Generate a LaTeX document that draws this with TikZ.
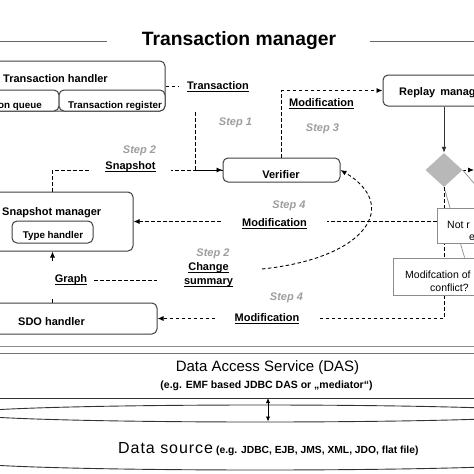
\documentclass[tikz,border=0pt]{standalone}
\usepackage{fontspec}
\setmainfont{Liberation Sans}
\usetikzlibrary{shapes.geometric,arrows.meta,backgrounds,calc}
\newcommand{\myul}[1]{\begingroup\setbox0=\hbox{#1}\leavevmode\rlap{\copy0}\rule[-2.6pt]{\wd0}{0.8pt}\endgroup}
\tikzset{
  box/.style={draw=black!75, line width=1pt, rounded corners=5pt, fill=white, inner sep=0pt},
  notebox/.style={draw=black!45, line width=0.8pt, fill=white, inner sep=0pt},
  bigt/.style={font=\fontsize{11}{13}\selectfont\bfseries, inner sep=0pt, anchor=base},
  smallt/.style={font=\fontsize{9.8}{12}\selectfont\bfseries, inner sep=0pt, anchor=base},
  lbl/.style={font=\fontsize{11}{13}\selectfont\bfseries, fill=white, inner xsep=0pt, inner ysep=1.5pt, anchor=base},
  steplbl/.style={font=\fontsize{11}{13}\selectfont\bfseries\itshape, text=black!38, inner sep=0pt, anchor=base},
  conn/.style={dash pattern=on 3.5pt off 2.5pt, line width=0.9pt},
  arr/.style={conn, -{Latex[length=6pt,width=5pt]}},
  notet/.style={font=\fontsize{10.5}{12}\selectfont, inner sep=0pt, anchor=base west},
  rule/.style={line width=0.8pt},
}
\begin{document}
\begin{tikzpicture}[x=1pt,y=-1pt]
\useasboundingbox (0,0) rectangle (474,474);
% title
\node[font=\fontsize{19.3}{22}\selectfont\bfseries, anchor=base, inner sep=0pt] (title) at (239,45) {Transaction manager};
\draw[rule, black!60] (0,41) -- (107,41);
\draw[rule, black!60] (370,41) -- (474,41);
% transaction handler
\node[box, minimum width=185pt, minimum height=50pt] (th) at (72.5,86) {};
\node[box, minimum width=89pt, minimum height=21pt] (tq) at (14.5,100.5) {};
\node[box, minimum width=106pt, minimum height=21pt] (tr) at (112,100.5) {};
\node[bigt, anchor=base west] (tht) at (3,82.5) {Transaction handler};
\node[smallt, anchor=base east] (tqt) at (42,108) {Transaction queue};
\node[smallt] (trt) at (115,108) {Transaction register};
\node[lbl] (trl) at (218,89) {\myul{Transaction}};
\coordinate (tv) at (195,112);
% verifier
\node[box, minimum width=117pt, minimum height=24pt] (ver) at (281.5,170) {};
\node[bigt] (vert) at (281,178) {Verifier};
% replay manager
\node[box, minimum width=137pt, minimum height=31pt] (rm) at (451.5,90.5) {};
\node[bigt, anchor=base west] (rmt) at (399,95) {Replay\hspace{5pt}manager};
% decision
\node[diamond, fill=black!28, minimum width=37pt, minimum height=34pt, inner sep=0pt] (dm) at (444,170) {};
\coordinate (dR) at (474,170);
\coordinate (dOff) at (495,208);
% notes
\node[notebox, minimum width=83pt, minimum height=35pt] (nr) at (478.5,225.5) {};
\node[notet] (nrt1) at (447,228) {Not r};
\node[notet] (nrt2) at (469,240) {e};
\node[notebox, minimum width=127pt, minimum height=37pt] (mc) at (456.5,276.5) {};
\node[notet] (mct1) at (405,278) {Modifcation of};
\node[notet] (mct2) at (430,291) {conflict?};
% snapshot manager
\node[box, minimum width=153pt, minimum height=59pt] (sm) at (56.5,221.5) {};
\node[bigt, anchor=base west] (smt) at (2,215) {Snapshot manager};
\node[box, minimum width=81pt, minimum height=22pt] (tyh) at (52.5,232) {};
\node[smallt] (tyt) at (53,238.5) {Type handler};
% SDO handler
\node[box, minimum width=177pt, minimum height=31pt] (sdo) at (68.5,318.5) {};
\node[bigt, anchor=base west] (sdot) at (18,325) {SDO handler};
% step labels
\node[steplbl] (s1) at (235.5,125) {Step 1};
\node[steplbl] (s3) at (322.5,131) {Step 3};
\node[steplbl] (s2a) at (139.5,153) {Step 2};
\node[steplbl] (s4a) at (289,208) {Step 4};
\node[steplbl] (s2b) at (213,256) {Step 2};
\node[steplbl] (s4b) at (286.5,300) {Step 4};
% connector labels
\node[lbl] (m3) at (321.5,106) {\myul{Modification}};
\node[lbl, minimum width=81pt] (snl) at (130.5,169) {\myul{Snapshot}};
\node[lbl, minimum width=105pt] (m4a) at (274.5,226) {\myul{Modification}};
\node[lbl, minimum width=102pt] (m4b) at (267,321) {\myul{Modification}};
\node[lbl, minimum width=46pt, minimum height=34pt, anchor=center] (gr) at (71,280) {\myul{Graph}};
\coordinate (gR) at (157,280);
\node[lbl] (csa) at (208.5,270) {\myul{Change}};
\node[lbl] (csb) at (208.5,284) {\myul{summary}};
\coordinate (c2) at (262,269);
% bottom layers
\draw[rule, black!45] (0,346) -- (474,346);
\draw[rule, black!55] (0,353) -- (474,353);
\node[font=\fontsize{15}{18}\selectfont, anchor=base, inner sep=0pt] (das) at (267.5,371) {Data Access Service (DAS)};
\node[font=\fontsize{10.5}{12}\selectfont\bfseries, anchor=base, inner sep=0pt] (dass) at (266.5,388) {(e.g. EMF based JDBC DAS or „mediator“)};
\draw[line width=0.9pt, black!80] (0,398) -- (474,398);
\draw[line width=0.9pt, black!80] (260,413.5) ellipse [x radius=294pt, y radius=8.5pt];
\draw[line width=0.9pt, black!80] (-34,461.5) arc [start angle=180, end angle=360, x radius=294pt, y radius=8.5pt];
\node[anchor=base west, inner sep=0pt] (ds) at (118,453) {{\fontsize{16}{18}\selectfont\addfontfeature{LetterSpace=6}Data source}\hspace{3pt}{\fontsize{10.3}{12}\selectfont\bfseries(e.g. JDBC, EJB, JMS, XML, JDO, flat file)}};
\coordinate (dasb) at (268,398);
\coordinate (dsb) at (268,421.5);
\draw[line width=0.9pt, {Latex[length=5pt,width=4.5pt]}-{Latex[length=5pt,width=4.5pt]}] (dasb) -- (dsb);
% connectors
\begin{scope}[on background layer]
\fill[white] (0,0) rectangle (474,474);
\draw[conn] (th.east) -- ($(th.east)+(13,0)$);
\draw[conn] (tv) |- (ver.west);
\draw[arr] (tyh.north |- sm.north) |- (ver.west);
\draw[arr] (ver.north) |- (rm.west);
\draw[line width=1pt, black!80, -{Latex[length=6pt,width=5pt]}] (dm.north |- rm.south) -- (dm.north);
\draw[arr] (dm.east) -- (dR);
\draw[black!45, line width=0.7pt] (dm.east) -- (dOff);
\draw[black!45, line width=0.7pt] (dm.south) -- ($(mc.north west)+(72,0)$);
\draw[arr] (nr.west |- sm.east) -- (sm.east);
\draw[arr] (dm.south) |- (sdo.east);
\draw[arr] (sdo.north -| tyh.south) -- (tyh.south |- sm.south);
\draw[conn] (gr.east) -- (gR);
\draw[arr] (c2) .. controls (368,258) and (400,205) .. (ver.east);
\end{scope}
\end{tikzpicture}
\end{document}
